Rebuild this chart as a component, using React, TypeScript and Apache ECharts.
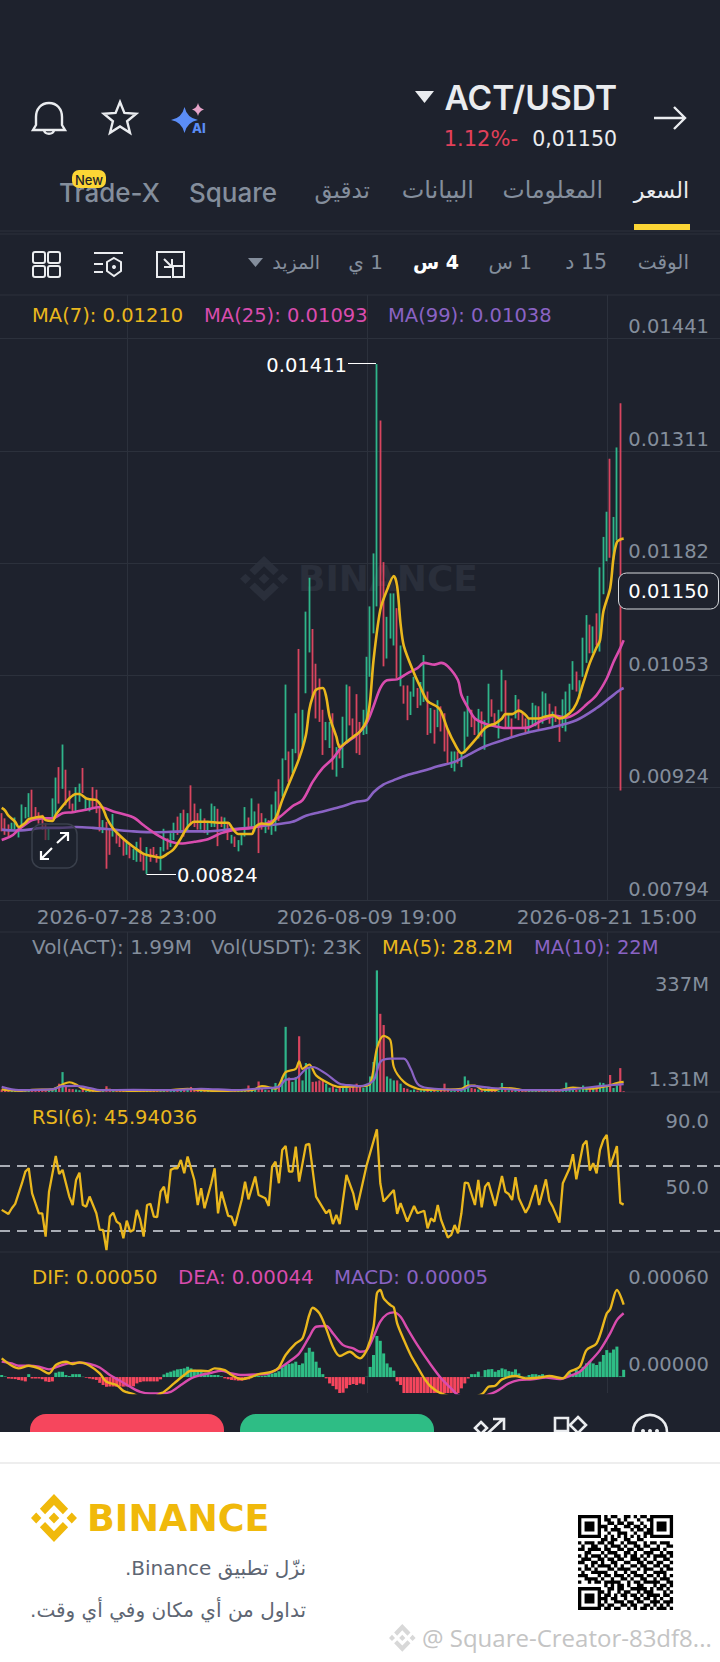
import React, { useEffect, useRef } from "react";
import * as echarts from "echarts";

const PRICE_UNIT = 1e-5;
const SLOT_COUNT = 213;
const DATE_TICK_SLOTS = [37, 108, 179];

// [open, close, low, high] in units of 0.00001, one per 4h candle
const candles: number[][] = [
  [894,873,873,894],[888,869,869,888],[881,867,867,881],[875,883,875,883],[875,889,875,889],[866,878,866,878],[878,904,878,904],[888,901,888,901],[889,917,889,917],[921,889,889,921],
  [901,888,888,901],[895,882,882,895],[892,875,875,892],[882,863,863,882],[863,876,863,876],[889,911,889,911],[891,935,891,935],[947,905,905,947],[922,973,922,973],[944,903,903,944],
  [920,899,899,920],[905,894,894,905],[896,924,896,924],[907,928,907,928],[946,917,917,946],[898,913,898,913],[896,909,896,909],[924,899,899,924],[921,894,894,921],[901,873,873,901],
  [871,886,871,886],[884,830,830,884],[876,846,846,876],[867,893,867,893],[871,859,859,871],[867,855,855,867],[863,845,845,863],[846,861,846,861],[857,842,842,857],[840,853,840,853],
  [838,861,838,861],[866,838,838,866],[848,828,828,848],[824,855,824,855],[853,838,838,853],[855,844,844,855],[847,837,837,847],[828,855,828,855],[850,876,850,876],[865,852,852,865],
  [855,871,855,871],[863,883,863,883],[890,869,869,890],[871,894,871,894],[898,867,867,898],[873,894,873,894],[926,880,880,926],[905,878,878,905],[894,875,875,894],[875,899,875,899],
  [888,871,871,888],[869,885,869,885],[878,905,878,905],[878,902,878,902],[899,856,856,899],[890,878,878,890],[871,889,871,889],[882,863,863,882],[859,869,859,869],[867,855,855,867],
  [850,863,850,863],[857,869,857,869],[867,901,867,901],[889,876,876,889],[878,911,878,911],[873,896,873,896],[905,848,848,905],[894,875,875,894],[871,888,871,888],[886,875,875,886],
  [869,904,869,904],[873,919,873,919],[933,885,885,933],[913,957,913,957],[955,1042,955,1042],[965,930,930,965],[940,968,940,968],[963,1009,963,1009],[1083,957,957,1083],[970,1013,970,1013],
  [1032,1126,1032,1126],[1079,1165,1079,1165],[1106,1028,1028,1106],[1066,1003,1003,1066],[1049,999,999,1049],[1013,961,961,1013],[978,999,978,999],[969,999,969,999],[1009,944,944,1009],[936,970,936,970],
  [974,957,957,974],[946,1005,946,1005],[974,1042,974,1042],[1040,995,995,1040],[1003,982,982,1003],[1031,963,963,1031],[999,961,961,999],[984,1013,984,1013],[985,1074,985,1074],[1051,1132,1051,1132],
  [1101,1193,1101,1193],[1132,1337,1132,1411],[1337,1135,1132,1346],[1183,1063,1063,1183],[1072,1120,1072,1120],[1095,1147,1095,1147],[1087,1147,1087,1147],[1130,1049,1049,1130],[1040,1087,1040,1087],[1041,1020,1020,1041],
  [1041,1001,1001,1041],[1007,1034,1007,1034],[1028,1051,1028,1051],[1038,1015,1015,1038],[1018,1045,1018,1045],[1022,1076,1022,1076],[1034,984,984,1034],[986,1015,986,1015],[1013,974,974,1013],[993,1024,993,1024],
  [1017,988,988,1017],[1009,965,965,1009],[991,951,951,991],[946,965,946,965],[942,965,942,965],[965,951,951,965],[947,963,947,963],[963,1011,963,1011],[982,1029,982,1029],[1013,993,993,1013],
  [1003,984,984,1003],[980,1014,980,1014],[1011,982,982,1011],[967,1001,967,1001],[997,1043,997,1043],[1025,1005,1005,1025],[1009,993,993,1009],[980,1013,980,1013],[1011,1059,1011,1059],[1047,993,993,1047],
  [992,1009,992,1009],[1003,982,982,1003],[1003,1030,1003,1030],[1025,1001,1001,1025],[1009,993,993,1009],[1003,985,985,1003],[986,1003,986,1003],[994,1021,994,1021],[994,1018,994,1018],[1017,991,991,1017],
  [997,1034,997,1034],[1003,1032,1003,1032],[1020,997,997,1020],[993,1011,993,1011],[1017,999,999,1017],[1005,976,976,1005],[992,1025,992,1025],[988,1034,988,1034],[1011,1043,1011,1043],[1036,1069,1036,1069],
  [1057,1034,1034,1057],[1026,1047,1026,1047],[1051,1096,1051,1096],[1067,1122,1067,1122],[1111,1078,1078,1111],[1078,1109,1078,1109],[1124,1087,1087,1124],[1080,1177,1080,1177],[1146,1212,1146,1212],[1184,1241,1184,1241],
  [1302,1188,1188,1302],[1186,1235,1186,1235],[1208,1315,1208,1315],[1194,1151,920,1366],[1151,1150,1150,1151],
];

const ma7Points = [[0,900],[1,897],[2,891],[4,884],[5,878],[7,883],[8,887],[10,889],[12,890],[13,886],[15,885],[16,892],[18,902],[20,911],[22,916],[23,916],[25,911],[26,910],[28,909],[30,899],[31,889],[33,876],[35,868],[37,861],[39,855],[42,847],[44,845],[47,843],[49,847],[51,853],[53,865],[55,878],[57,884],[59,884],[61,884],[64,883],[67,883],[68,878],[70,870],[72,870],[74,870],[75,878],[77,882],[79,881],[81,888],[83,909],[85,928],[88,957],[90,984],[91,1013],[92,1028],[93,1036],[95,1038],[96,1028],[97,1005],[99,982],[100,970],[102,976],[104,982],[106,988],[108,1001],[109,1024],[110,1070],[112,1128],[114,1151],[116,1167],[117,1155],[118,1112],[119,1086],[122,1055],[124,1038],[126,1023],[129,1016],[130,1011],[132,990],[134,974],[136,963],[137,965],[140,978],[143,992],[145,996],[146,997],[148,1003],[149,1008],[151,1008],[153,1012],[155,1007],[156,1003],[159,1003],[160,1004],[163,1007],[165,1003],[168,1009],[170,1020],[172,1043],[174,1067],[176,1085],[177,1093],[178,1126],[180,1153],[181,1188],[182,1206],[183,1209],[184,1210]];
const ma25Points = [[0,863],[3,868],[5,875],[9,886],[12,888],[15,888],[18,894],[21,895],[25,898],[29,901],[33,896],[39,889],[42,880],[46,869],[50,861],[53,859],[57,861],[61,864],[65,871],[69,875],[74,877],[77,880],[82,889],[86,902],[89,909],[92,930],[95,946],[98,957],[101,972],[105,984],[108,998],[110,1017],[112,1038],[114,1047],[117,1048],[120,1055],[123,1061],[125,1067],[128,1065],[130,1067],[132,1063],[135,1047],[136,1030],[138,1015],[140,1003],[143,997],[146,994],[149,992],[153,992],[156,993],[160,1001],[164,1006],[167,1004],[170,1009],[173,1019],[176,1030],[179,1049],[181,1068],[183,1084],[184,1093]];
const ma99Points = [[0,875],[4,874],[8,875],[12,877],[17,877],[22,878],[27,877],[33,875],[39,873],[46,872],[54,873],[61,873],[67,875],[73,877],[79,880],[86,884],[90,891],[94,895],[100,901],[105,907],[108,909],[110,918],[113,927],[116,932],[120,938],[125,943],[129,948],[134,953],[138,961],[143,971],[149,979],[156,987],[163,993],[170,1001],[176,1015],[180,1027],[183,1036],[184,1038]];

const priceTicks = [0.00794, 0.00924, 0.01053, 0.01182, 0.01311, 0.01441];

// volume in millions
const volumes = [
  7,5,4,3,3,5,6,4,6,8,
  5,4,4,3,3,5,14,23,55,16,
  9,8,7,5,12,4,3,4,4,3,
  3,16,9,5,3,3,4,3,3,3,
  4,5,4,7,3,3,3,5,8,4,
  5,7,8,9,9,8,14,6,4,4,
  3,3,5,4,6,3,3,3,2,3,
  3,3,7,18,8,6,29,9,6,5,
  14,25,18,40,180,40,28,41,154,32,
  80,69,28,29,32,32,23,12,16,9,
  11,11,14,11,14,23,16,12,23,43,
  83,336,216,185,43,37,32,32,23,11,
  9,5,7,4,5,8,5,4,5,3,
  6,23,9,3,3,3,4,43,32,11,
  9,7,5,9,14,7,5,4,25,9,
  5,5,7,5,4,3,3,5,4,3,
  7,6,3,3,3,6,7,26,12,14,
  6,7,18,14,9,11,9,26,25,18,
  47,11,18,66,2,
];
const volMa5Points = [[0,7],[5,3],[9,6],[15,7],[18,21],[20,27],[22,21],[24,9],[28,3],[31,6],[39,3],[49,5],[55,9],[59,5],[63,3],[74,5],[77,16],[81,9],[84,55],[87,64],[88,85],[89,64],[91,76],[93,46],[97,23],[100,14],[106,16],[109,23],[111,120],[113,155],[115,143],[116,69],[119,28],[123,9],[126,6],[136,9],[138,18],[140,18],[142,7],[146,5],[148,11],[152,9],[154,5],[159,5],[165,5],[169,12],[174,9],[179,16],[182,25],[184,28.2]];
const volMa10Points = [[0,14],[5,5],[15,7],[18,16],[22,17],[26,11],[29,5],[39,6],[51,5],[59,9],[69,5],[75,9],[82,14],[84,34],[87,37],[90,64],[92,69],[96,50],[100,23],[104,18],[106,16],[110,32],[112,83],[115,92],[119,92],[121,64],[123,23],[126,11],[136,6],[139,17],[145,11],[148,9],[155,5],[165,5],[170,9],[177,16],[184,22]];
const volTickLabels = ["337M", "1.31M"];

const rsiPoints = [[0,42.7],[2,40.2],[3,43.7],[4,46.4],[6,59.1],[7,66.2],[8,68.3],[9,52.9],[11,40.6],[12,40.6],[13,26.3],[14,53.9],[16,75.9],[17,64.8],[18,67.3],[20,50.9],[21,45.7],[22,61.1],[23,65.6],[24,45.7],[25,44.7],[26,50.9],[28,40.6],[29,30.4],[30,30.4],[31,18],[32,38.6],[33,41],[34,35.5],[35,34],[36,25.2],[37,36.1],[38,29.3],[39,30.4],[40,42.7],[41,36.5],[42,26.3],[43,45.7],[44,46.4],[45,38.6],[46,38.2],[47,53.9],[48,57],[49,46.8],[50,67.3],[51,68.3],[52,68.3],[53,73.4],[54,65.2],[55,75.5],[56,68.3],[57,61.1],[58,45.7],[59,56],[60,43.7],[62,59.1],[63,68.3],[64,40.6],[65,53.9],[67,39],[68,38.6],[69,32.8],[71,48.8],[72,60.1],[73,49.2],[75,63.2],[76,51.9],[78,49.9],[79,45.1],[80,69.3],[81,72.4],[82,59.1],[83,79.6],[84,82],[85,66.2],[86,66.2],[87,81.6],[88,60.1],[90,82.7],[91,83.3],[93,50.9],[96,40.6],[97,42.7],[98,34],[99,39.6],[100,34],[102,64.2],[104,52.9],[105,42.7],[106,51.9],[108,70.4],[111,92.3],[112,59.1],[113,47.8],[116,55],[117,40.2],[118,46.8],[120,35.5],[122,45.1],[123,40.6],[125,42.2],[126,31.4],[127,37.5],[128,35.5],[129,45.7],[130,36.5],[132,25.6],[133,27.3],[134,33.4],[135,28.3],[136,40.6],[137,59.5],[138,59.1],[140,45.7],[141,61.1],[142,44.3],[143,57],[144,59.5],[146,45.1],[148,63.6],[149,53.9],[150,52.5],[151,48.8],[152,62.8],[153,49.9],[155,41],[156,44.7],[158,58],[159,45.7],[161,61.5],[162,48.4],[163,44.7],[165,34.9],[166,59.1],[168,68.3],[169,76.9],[170,61.5],[172,82.7],[173,85.3],[174,66.9],[175,71.4],[176,65.2],[177,79.6],[178,85.7],[179,88.8],[180,69.3],[182,82],[183,47],[184,45.94]];
const rsiTicks = [50, 90];
const rsiBands = [30, 70];

// MACD family in units of 0.00001
const difPoints = [[0,12.9],[3,7.8],[5,6],[8,7.8],[11,6],[14,2.5],[16,8.3],[19,10.6],[21,9],[23,10.1],[26,7.8],[29,2.5],[31,-3.3],[34,-5.5],[36,-9.5],[39,-11.8],[43,-16],[47,-11.3],[48,-10.2],[51,-4.4],[54,1.4],[56,4.3],[59,4.3],[61,4.1],[63,6],[66,4.8],[68,1.4],[71,-1.4],[74,0.2],[76,2],[80,3.7],[82,6.6],[84,15.2],[87,23.2],[89,26.7],[91,42.8],[92,47.8],[94,43.9],[96,33.5],[98,20.9],[100,14.5],[103,17.5],[105,14],[106,12.9],[108,18.6],[110,34.7],[111,57.7],[112,60],[113,54.3],[115,49.6],[116,48],[117,37],[119,25.5],[121,15.2],[123,7.1],[125,-0.9],[127,-6.7],[130,-11.3],[136,-15],[142,-12],[144,-6.7],[146,-6],[148,-1.6],[152,0.7],[155,-0.9],[159,-0.3],[162,0.7],[166,-0.9],[168,3.7],[171,7.1],[173,18.6],[176,23.2],[179,43.9],[180,46.7],[182,60],[184,50]];
const deaPoints = [[0,10.6],[3,9.4],[5,7.8],[8,7.8],[11,7.1],[14,5.3],[17,7.6],[20,9.4],[23,9.9],[26,9],[29,6.6],[32,1.4],[35,-2.6],[38,-6.7],[41,-10.2],[44,-11.3],[47,-11.3],[50,-10.2],[53,-5.5],[56,-0.9],[59,1.4],[62,3],[65,4.3],[68,2.5],[71,1.4],[75,1.8],[78,2],[82,6],[85,10.6],[88,16.3],[91,27.8],[93,34.7],[96,35.2],[98,30.1],[101,22],[104,19.7],[106,17.5],[108,18.6],[110,27.8],[112,38.2],[114,43.4],[116,44.6],[118,41.6],[120,33.5],[123,22],[127,8.3],[130,-0.9],[133,-7.9],[135,-12.4],[139,-15],[145,-11.3],[147,-9],[150,-4.4],[153,-2.1],[157,-1.6],[161,-0.3],[165,-1.4],[168,0.7],[171,3.7],[174,10.6],[177,18.6],[180,30.1],[182,39.3],[184,44]];
const macdBars = [
  1.4,0.3,-1,-1.2,-1.4,-2,-2.4,-3,2,-1,
  -1,-1,-1.5,-3,-3.4,-3,3,3.7,3.7,1.4,
  0.7,2,2,2,0.2,-0.5,-1,-1.5,-2,-4,
  -5.5,-6.7,-6.5,-6.5,-6.7,-6.5,-6.6,-6.5,-6.7,-6.4,
  -4.4,-3.5,-3,-3,-3,-3,-3,-1.6,1.8,3,
  3.7,4.5,5.3,5.6,6,7.1,6,5,4.4,3.7,
  3,2,1.5,1.4,1.4,0.5,-0.9,-1.5,-2,-2.2,
  -2.5,-2.5,-2,-1.6,0.7,0.7,0.7,0.7,1,2,
  2.5,3,4,6.7,8.3,9,9.4,10.6,8.3,9.4,
  16.8,20.2,17.5,10.6,6.4,2,-0.9,-4.4,-6.2,-8.5,
  -11.3,-10.8,-7.8,-5.5,-4.8,-5.5,-4.4,-5,0.2,7,
  15.2,28.3,25,16.3,9.4,6.7,4.4,-3,-5.5,-11.3,
  -13,-13,-14,-14,-13,-14,-14,-13,-14,-14,
  -14,-13,-14,-13,-13,-11.3,-7.8,-4.4,-1,2,
  2,3.7,0.2,4.8,5.3,5.5,3.7,4.8,6,5.3,
  4.1,3.7,5.3,2.5,0.3,0.3,1.4,2,2,1.4,
  2,0.7,0.3,0.2,-0.3,-0.6,-0.9,0.7,3,1.4,
  4.8,3.7,7,9.4,10.6,9.4,8.3,10.6,15.2,18.6,
  16.8,19,21,0.5,5,
];
const macdTicks = [0, 0.0006];

const qrRows = [
  "11111110101100110101101111111","10000010110010100010011000001","10111010011011011001001011101","10111011100100110110101011101",
  "10111010101110001011011011101","10000010010011100100111000001","11111110101010101010101111111","00000001101100110011000000000",
  "10111011011001011100101101110","01001100101110100110110010011","11011110110011011011001110100","00110001011100110100111001011",
  "10101110100110101101010111101","01110011011011001110100100110","11001101001100110011011011001","00101011110101001101100110110",
  "10110100011011110010111001011","01001111100100101100100111100","11100010110111010111011010101","00111101001001101001100101110",
  "10010110111110010110111110011","00000000101011010011000101101","11111110011011001111101011010","10000011010010110010111000101",
  "10111010110101101101011110110","10111011101100100110110101001","10111010100111011011001110111","10000011011001101100110101010",
  "11111110110110010101101011101",
];

const BG = "#1e222d";
const GRID = "#2c313c";
const GREY = "#848e9c";
const WHITE = "#eaecef";
const YELLOW = "#eab71d";
const PINK = "#d94cae";
const PURPLE = "#8a63c4";
const UP = "#2fb58a";
const DOWN = "#d8455f";
const BAR_UP = "#2ebd85";
const BAR_DOWN = "#f6465d";
const LATIN = "Inter, 'DejaVu Sans', sans-serif";
const CHART_FONT = "'DejaVu Sans', sans-serif";
const ARABIC = "'DejaVu Sans', 'Noto Sans', sans-serif";

const LOGO_D = "M38.73 53.2l24.59-24.58 24.6 24.6 14.3-14.31L63.32 0 24.43 38.9zM0 63.31l14.3-14.31 14.31 14.31-14.31 14.3zM38.73 73.41l24.59 24.59 24.6-24.6 14.31 14.29-38.9 38.91-38.91-38.88-.02-.02zM98.01 63.31l14.3-14.31 14.31 14.3-14.31 14.32zM77.83 63.3L63.32 48.78 52.59 59.51l-1.24 1.23-2.54 2.54 14.51 14.52 14.51-14.52z";
let qrD = "";
qrRows.forEach((row, r) => {
  for (let c = 0; c < row.length; c++) if (row[c] === "1") qrD += `M${c} ${r}h1.02v1.02h-1.02z`;
});
const shapes: Record<string, string> = {
  bnbLogo: LOGO_D,
  qrCode: qrD,
  bellIcon: "M49 103C41 103 36 109 36 117L36 125L33 130L65 130L62 125L62 117C62 109 57 103 49 103ZM44 130C44 135 54 135 54 130",
  arrowIcon: "M654 118L684 118M674 107L685 118L674 129",
  sparkBig: "M184.5 107Q187 118 198 120Q187 122 184.5 133Q182 122 171 120Q182 118 184.5 107Z",
  sparkSmall: "M198 103Q199 108 204 109.5Q199 111 198 116Q197 111 192 109.5Q197 108 198 103Z",
  indicatorIcon: "M94 253H123M94 264H103M94 272H103M114 258L121 262V271L114 276L107 271V262Z",
  layoutIcon: "M184 265V252H157V277H171M173 266H184V277H173ZM164 259L172 267M172 259V267H164",
  expandIcon: "M41 859L52 848M41 851V859H49M57 843L68 833M60 833H68V841",
  shareIcon: "M481 1422L487 1428L481 1434L475 1428ZM487 1434L503 1419M493 1419H504V1430",
  moreIcon: "M555 1418H568V1431H555ZM578 1417L586 1425L578 1433L570 1425Z",
};
Object.keys(shapes).forEach((k) => echarts.graphic.registerShape(k, echarts.graphic.extendPath(shapes[k], {})));

const RTL = (s: string) => `\u202B${s}\u202C`;

function T(text: string, x: number, y: number, fill: string, size: number, o: any = {}) {
  return {
    type: "text",
    z: o.z ?? 10,
    style: {
      text, x, y, fill,
      fontSize: size,
      fontFamily: o.family ?? CHART_FONT,
      fontWeight: o.weight ?? 400,
      textAlign: o.align ?? "left",
      textVerticalAlign: "middle",
    },
  };
}
const icon = (type: string, stroke = WHITE, lineWidth = 2.4, z = 10) => ({ type, z, style: { fill: "none", stroke, lineWidth } });

const toPrice = (pts: number[][]) => pts.map(([i, v]) => [i, +(v * PRICE_UNIT).toFixed(6)]);
const slotLabel = (i: number) => {
  const d = new Date(Date.UTC(2026, 6, 28, 23) + (i - 37) * 4 * 3600 * 1000);
  const p = (n: number) => String(n).padStart(2, "0");
  return `${d.getUTCFullYear()}-${p(d.getUTCMonth() + 1)}-${p(d.getUTCDate())} ${p(d.getUTCHours())}:${p(d.getUTCMinutes())}`;
};
const slots = Array.from({ length: SLOT_COUNT }, (_, i) => slotLabel(i));
const onDateTick = (i: number) => DATE_TICK_SLOTS.includes(i);

const lineSeries = (name: string, xi: number, yi: number, data: any[], color: string, smooth: any = 0.3, width = 2.6) => ({
  name, type: "line", xAxisIndex: xi, yAxisIndex: yi, data, smooth, showSymbol: false, symbol: "none",
  lineStyle: { color, width }, itemStyle: { color }, z: 5,
});

function buildOption() {
  const makeX = (gridIndex: number, labels: boolean) => ({
    type: "category", gridIndex, data: slots, boundaryGap: true,
    axisLine: { show: false }, axisTick: { show: false },
    axisLabel: labels
      ? { show: true, interval: (i: number) => onDateTick(i), color: GREY, fontSize: 20, fontFamily: CHART_FONT, margin: 7 }
      : { show: false },
    splitLine: { show: true, interval: (i: number) => onDateTick(i), alignWithLabel: true, lineStyle: { color: GRID, width: 1 } },
  });
  const tickLabel = (customValues: number[], formatter: any, pad: number) => ({
    show: true, inside: true, customValues, formatter, color: GREY, fontSize: 19.5, fontFamily: CHART_FONT,
    margin: 11, align: "right", verticalAlign: "bottom", padding: [0, 0, pad, 0],
  });
  const graphics: any[] = [
    // watermark
    { type: "bnbLogo", z: 0, x: 240, y: 556, scaleX: 0.38, scaleY: 0.36, style: { fill: "#2a2f3b" } },
    T("BINANCE", 298, 578, "#2a2f3b", 36, { z: 0, weight: 700 }),
    // header
    icon("bellIcon"),
    { type: "polygon", z: 10, shape: { points: [[120,102],[124.4,112.9],[136.2,113.7],[127.1,121.3],[130,132.8],[120,126.5],[110,132.8],[112.9,121.3],[103.8,113.7],[115.6,112.9]] }, style: { fill: "none", stroke: WHITE, lineWidth: 2.4 } },
    { type: "sparkBig", z: 10, style: { fill: "#5b8df6" } },
    { type: "sparkSmall", z: 10, style: { fill: "#e6a3c8" } },
    T("AI", 192, 128, "#5b8df6", 13, { weight: 800, family: LATIN }),
    { type: "polygon", z: 10, shape: { points: [[415,91],[434,91],[424.5,103]] }, style: { fill: WHITE } },
    T("ACT/USDT", 617, 98, WHITE, 33.5, { align: "right", weight: 600, family: LATIN }),
    T("1.12%-", 518, 139, "#e2405a", 21, { align: "right" }),
    T("0,01150", 617, 139, WHITE, 20.5, { align: "right" }),
    icon("arrowIcon"),
    // tabs
    T("Trade-X", 59, 192, GREY, 26, { weight: 500, family: LATIN }),
    { type: "rect", z: 11, shape: { x: 72, y: 170, width: 34, height: 18, r: 7 }, style: { fill: "#fcd535" } },
    T("New", 89, 179.5, "#1e2329", 13, { align: "center", z: 12, weight: 500, family: LATIN }),
    T("Square", 189, 192, GREY, 26, { weight: 500, family: LATIN }),
    T("تدقيق", 370, 190, GREY, 23, { align: "right", family: ARABIC }),
    T("البيانات", 474, 190, GREY, 24, { align: "right", family: ARABIC }),
    T("المعلومات", 603, 190, GREY, 23.5, { align: "right", family: ARABIC }),
    T("السعر", 689, 190, WHITE, 22, { align: "right", family: ARABIC }),
    { type: "rect", z: 10, shape: { x: 634, y: 224, width: 56, height: 6 }, style: { fill: "#fcd535" } },
    { type: "line", z: 9, shape: { x1: 0, y1: 231, x2: 720, y2: 231 }, style: { stroke: GRID, lineWidth: 1 } },
    { type: "line", z: 9, shape: { x1: 0, y1: 234, x2: 720, y2: 234 }, style: { stroke: GRID, lineWidth: 1 } },
    // timeframe row
    T("الوقت", 689, 262, GREY, 20, { align: "right", family: ARABIC }),
    T(RTL("15 د"), 607, 262, GREY, 20.5, { align: "right", family: ARABIC }),
    T(RTL("1 س"), 532, 262, GREY, 20, { align: "right", family: ARABIC }),
    T(RTL("4 س"), 459, 262, "#ffffff", 19, { align: "right", family: ARABIC, weight: 700 }),
    T(RTL("1 ي"), 383, 262, GREY, 20, { align: "right", family: ARABIC }),
    T("المزيد", 320, 262, GREY, 19, { align: "right", family: ARABIC }),
    { type: "polygon", z: 10, shape: { points: [[248,258],[263,258],[255.5,267]] }, style: { fill: GREY } },
    ...[[33,252],[48,252],[33,266],[48,266]].map(([x, y]) => ({ type: "rect", z: 10, shape: { x, y, width: 12, height: 11, r: 2 }, style: { fill: "none", stroke: WHITE, lineWidth: 2 } })),
    icon("indicatorIcon", WHITE, 2),
    { type: "circle", z: 10, shape: { cx: 114, cy: 267, r: 2 }, style: { fill: WHITE } },
    icon("layoutIcon", WHITE, 2),
    { type: "line", z: 1, shape: { x1: 0, y1: 295, x2: 720, y2: 295 }, style: { stroke: GRID, lineWidth: 1 } },
    // main panel legend
    T("MA(7): 0.01210", 32, 315, YELLOW, 19.5),
    T("MA(25): 0.01093", 204, 315, PINK, 19.5),
    T("MA(99): 0.01038", 388, 315, PURPLE, 19.5),
    // extreme callouts
    { type: "line", z: 10, shape: { x1: 348, y1: 363.5, x2: 376, y2: 363.5 }, style: { stroke: "#ffffff", lineWidth: 1 } },
    T("0.01411", 347, 365, "#ffffff", 19.5, { align: "right" }),
    { type: "line", z: 10, shape: { x1: 146.5, y1: 874.5, x2: 176, y2: 874.5 }, style: { stroke: "#ffffff", lineWidth: 1 } },
    T("0.00824", 177, 875, "#ffffff", 19.5),
    // last price tag
    { type: "rect", z: 10, shape: { x: 618.5, y: 573, width: 100, height: 36, r: 8 }, style: { fill: BG, stroke: "#d5d8dc", lineWidth: 1 } },
    T("0.01150", 709, 591.5, "#ffffff", 19.5, { align: "right", z: 11 }),
    // expand button
    { type: "rect", z: 10, shape: { x: 32, y: 824, width: 45, height: 44, r: 10 }, style: { fill: "rgba(30,34,45,0.55)", stroke: "#3a404c", lineWidth: 1.5 } },
    icon("expandIcon", "#ffffff", 2.2),
    // separators
    { type: "line", z: 1, shape: { x1: 0, y1: 932, x2: 720, y2: 932 }, style: { stroke: GRID, lineWidth: 1 } },
    { type: "line", z: 1, shape: { x1: 0, y1: 1092, x2: 720, y2: 1092 }, style: { stroke: GRID, lineWidth: 1 } },
    { type: "line", z: 1, shape: { x1: 0, y1: 1252, x2: 720, y2: 1252 }, style: { stroke: GRID, lineWidth: 1 } },
    // volume panel text
    T("Vol(ACT): 1.99M", 32, 947, GREY, 20),
    T("Vol(USDT): 23K", 211, 947, GREY, 19.7),
    T("MA(5): 28.2M", 382, 947, YELLOW, 19.5),
    T("MA(10): 22M", 534, 947, PURPLE, 19.5),
    T(volTickLabels[0], 709, 984, GREY, 19.5, { align: "right" }),
    T(volTickLabels[1], 709, 1079, GREY, 19.5, { align: "right" }),
    T("RSI(6): 45.94036", 32, 1117, YELLOW, 19.5),
    T("DIF: 0.00050", 32, 1277, YELLOW, 19.8),
    T("DEA: 0.00044", 178, 1277, PINK, 19.8),
    T("MACD: 0.00005", 334, 1277, PURPLE, 19.8),
    // trade buttons and toolbar, cut by the white footer
    { type: "rect", z: 10, shape: { x: 30, y: 1414, width: 194, height: 40, r: 16 }, style: { fill: BAR_DOWN } },
    { type: "rect", z: 10, shape: { x: 240, y: 1414, width: 194, height: 40, r: 16 }, style: { fill: BAR_UP } },
    icon("shareIcon", WHITE, 2.6),
    icon("moreIcon", WHITE, 2.6),
    { type: "circle", z: 10, shape: { cx: 650, cy: 1432, r: 17 }, style: { fill: "none", stroke: WHITE, lineWidth: 2.6 } },
    ...[643, 650, 657].map((cx) => ({ type: "circle", z: 10, shape: { cx, cy: 1431, r: 2 }, style: { fill: WHITE } })),
    // footer
    { type: "rect", z: 20, shape: { x: 0, y: 1432, width: 720, height: 230 }, style: { fill: "#ffffff" } },
    { type: "line", z: 21, shape: { x1: 0, y1: 1463, x2: 720, y2: 1463 }, style: { stroke: "#eeeeee", lineWidth: 2 } },
    { type: "bnbLogo", z: 21, x: 31, y: 1494, scaleX: 0.363, scaleY: 0.38, style: { fill: "#f0b90b" } },
    T("BINANCE", 87, 1518, "#f0b90b", 36.5, { z: 21, weight: 700 }),
    T(RTL("نزّل تطبيق Binance."), 306, 1568, "#5e6673", 20, { z: 21, align: "right", family: ARABIC }),
    T(RTL("تداول من أي مكان وفي أي وقت."), 306, 1610, "#5e6673", 20, { z: 21, align: "right", family: ARABIC }),
    { type: "qrCode", z: 21, x: 578, y: 1515, scaleX: 95 / 29, scaleY: 95 / 29, style: { fill: "#000000" } },
    { type: "bnbLogo", z: 21, x: 389, y: 1624, scaleX: 0.21, scaleY: 0.22, style: { fill: "#d8d8d8" } },
    T("@ Square-Creator-83df8...", 422, 1637, "#c4c4c4", 24, { z: 21, family: "'Open Sans', sans-serif" }),
  ];

  return {
    animation: false,
    backgroundColor: BG,
    graphic: { elements: graphics },
    grid: [
      { left: 0, right: 0, top: 295, height: 605 },
      { left: 0, right: 0, top: 932, height: 160 },
      { left: 0, right: 0, top: 1092, height: 160 },
      { left: 0, right: 0, top: 1252, height: 141 },
    ],
    xAxis: [makeX(0, true), makeX(1, false), makeX(2, false), makeX(3, false)],
    yAxis: [
      {
        type: "value", gridIndex: 0, position: "right", min: 0.00794, max: 0.014905, scale: true,
        axisLine: { show: false }, axisTick: { show: false, customValues: priceTicks },
        axisLabel: tickLabel(priceTicks, (v: number) => v.toFixed(5), 1),
        splitLine: { show: true, lineStyle: { color: GRID, width: 1 } },
      },
      {
        type: "value", gridIndex: 1, position: "right", min: 0, max: 442,
        axisLine: { show: false }, axisTick: { show: false }, axisLabel: { show: false }, splitLine: { show: false },
      },
      {
        type: "value", gridIndex: 2, position: "right", min: 16.8, max: 115.2,
        axisLine: { show: false }, axisTick: { show: false, customValues: rsiTicks },
        axisLabel: tickLabel(rsiTicks, (v: number) => v.toFixed(1), 1), splitLine: { show: false },
      },
      {
        type: "value", gridIndex: 3, position: "right", min: -0.00011, max: 0.0008625,
        axisLine: { show: false }, axisTick: { show: false, customValues: macdTicks },
        axisLabel: tickLabel(macdTicks, (v: number) => v.toFixed(5), 3), splitLine: { show: false },
      },
    ],
    series: [
      {
        name: "ACT/USDT", type: "candlestick", xAxisIndex: 0, yAxisIndex: 0, barWidth: 1.2,
        data: candles.map((c) => c.map((v) => +(v * PRICE_UNIT).toFixed(5))),
        itemStyle: { color: UP, color0: DOWN, borderColor: UP, borderColor0: DOWN, borderWidth: 1.8 },
        z: 3,
      },
      lineSeries("MA(99)", 0, 0, toPrice(ma99Points), PURPLE),
      lineSeries("MA(25)", 0, 0, toPrice(ma25Points), PINK),
      lineSeries("MA(7)", 0, 0, toPrice(ma7Points), YELLOW),
      {
        name: "Vol", type: "bar", xAxisIndex: 1, yAxisIndex: 1, barWidth: 2.2,
        data: volumes.map((v, i) => ({ value: v, itemStyle: { color: candles[i][1] >= candles[i][0] ? UP : DOWN } })),
        z: 3,
      },
      lineSeries("MA(5)", 1, 1, volMa5Points, YELLOW, 0.3, 2.2),
      lineSeries("MA(10)", 1, 1, volMa10Points, PURPLE, 0.3, 2.2),
      {
        ...lineSeries("RSI(6)", 2, 2, rsiPoints, YELLOW, false, 2.3),
        markLine: {
          silent: true, symbol: "none", label: { show: false },
          lineStyle: { color: "#a9adb5", type: [10, 7], width: 1.8 },
          data: rsiBands.map((y) => ({ yAxis: y })),
        },
      },
      {
        name: "MACD", type: "bar", xAxisIndex: 3, yAxisIndex: 3, barWidth: 3,
        data: macdBars.map((v) => ({ value: +(v * PRICE_UNIT).toFixed(6), itemStyle: { color: v >= 0 ? BAR_UP : BAR_DOWN } })),
        z: 3,
      },
      lineSeries("DEA", 3, 3, toPrice(deaPoints), PINK, 0.3, 2.4),
      lineSeries("DIF", 3, 3, toPrice(difPoints), YELLOW, 0.3, 2.4),
    ],
  };
}

export default function App() {
  const ref = useRef<HTMLDivElement>(null);
  useEffect(() => {
    document.body.style.margin = "0";
    document.body.style.background = BG;
    const chart = echarts.init(ref.current!, undefined, { renderer: "svg" });
    chart.setOption(buildOption() as any);
    return () => chart.dispose();
  }, []);
  return <div ref={ref} style={{ width: 720, height: 1662 }} />;
}
